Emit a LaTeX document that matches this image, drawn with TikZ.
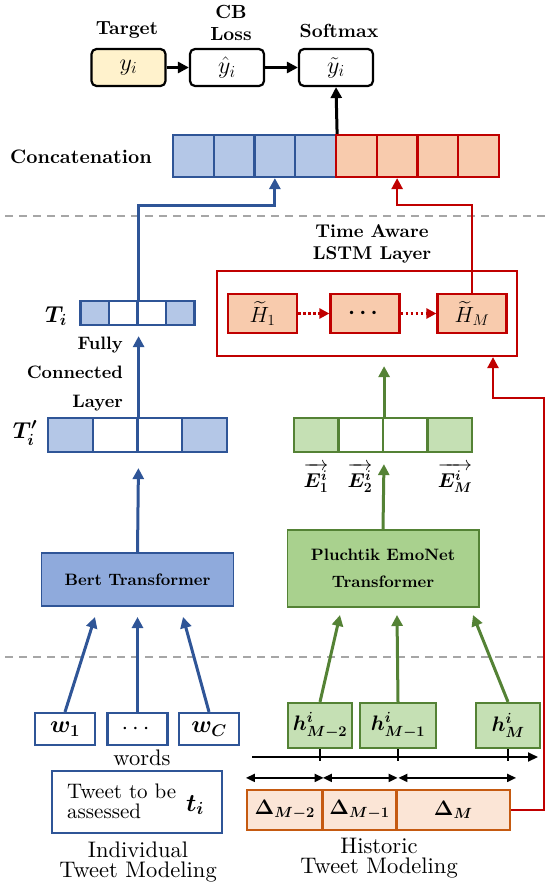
\RequirePackage{fix-cm}
\documentclass[tikz,border=0pt]{standalone}
\usepackage{amsmath}
\usepackage{bm}
\usepackage{fontspec}
\setmainfont{lmroman10}[Extension=.otf, UprightFont=*-regular, BoldFont=*-bold, ItalicFont=*-italic, BoldItalicFont=*-bolditalic]
\usetikzlibrary{arrows.meta,calc}
\definecolor{blueD}{HTML}{2F5597}
\definecolor{blueL}{HTML}{B4C7E7}
\definecolor{blueM}{HTML}{8FAADC}
\definecolor{redD}{HTML}{C00000}
\definecolor{redL}{HTML}{F8CBAD}
\definecolor{greenD}{HTML}{548235}
\definecolor{greenL}{HTML}{C5E0B4}
\definecolor{greenM}{HTML}{A9D18E}
\definecolor{orangeD}{HTML}{C55A11}
\definecolor{orangeL}{HTML}{FBE5D6}
\definecolor{yellowL}{HTML}{FFF2CC}
\definecolor{grayD}{HTML}{A6A6A6}
\begin{document}
\begin{tikzpicture}[x=1pt,y=-1pt,
  lbl/.style={font=\bfseries\fontsize{19}{21.5}\selectfont, align=center, inner sep=0},
  plaintxt/.style={font=\fontsize{22.5}{20}\selectfont, align=center, inner sep=0},
  twtxt/.style={font=\fontsize{21}{21}\selectfont, anchor=base west, inner sep=0},
  mlbl/.style={font=\fontsize{23}{23}\selectfont, inner sep=0},
  topbox/.style={draw=black, line width=2.2pt, rounded corners=5pt, minimum width=74pt, minimum height=37pt, inner sep=0, font=\fontsize{24}{24}\selectfont},
  cellbox/.style={line width=2.2pt, inner sep=0},
  hbox/.style={draw=redD, fill=redL, line width=2.2pt, minimum width=69pt, minimum height=39pt, inner sep=0, font=\fontsize{22}{22}\selectfont},
  wbox/.style={draw=blueD, fill=white, line width=2.2pt, minimum width=60pt, minimum height=32pt, inner sep=0, font=\fontsize{24}{24}\selectfont},
  gbox/.style={draw=greenD, fill=greenL, line width=2.2pt, minimum height=45pt, inner sep=0, font=\fontsize{21}{21}\selectfont},
  dbox/.style={draw=orangeD, fill=orangeL, line width=2.2pt, minimum height=40pt, inner sep=0, font=\fontsize{21}{21}\selectfont},
  tf/.style={font=\bfseries\fontsize{16.5}{27}\selectfont, align=center, line width=1.5pt, inner sep=0},
  tipb/.style={-{Triangle[length=11pt,width=11pt]}},
  blk/.style={draw=black, line width=3pt, tipb},
  bluearr/.style={draw=blueD, line width=3pt, tipb},
  greenarr/.style={draw=greenD, line width=3pt, tipb},
  redarr/.style={draw=redD, line width=2.5pt, tipb},
  dotarr/.style={draw=redD, line width=2.5pt, dash pattern=on 2.5pt off 2.5pt, -{Triangle[length=10pt,width=10pt]}},
  dsh/.style={draw=grayD, line width=2pt, dash pattern=on 8pt off 6pt},
  tline/.style={draw=black, line width=2pt, -{Triangle[length=10pt,width=9pt]}},
  dbl/.style={draw=black, line width=1.8pt, {Triangle[length=9pt,width=8pt]}-{Triangle[length=9pt,width=8pt]}},
  tick/.style={draw=black, line width=2pt}
]
\useasboundingbox (0,0) rectangle (551,894);

% ---------- top ----------
\node[topbox, fill=yellowL] (tg) at (128.5,67.5) {$y_i$};
\node[topbox, fill=white] (cb) at (227,67.5) {$\hat{y}_i$};
\node[topbox, fill=white] (sm) at (336,67.5) {$\tilde{y}_i$};
\node[lbl] (tgl) at (127,30) {Target};
\node[lbl] (cbl) at (231,23) {CB\\Loss};
\node[lbl] (sml) at (339,31) {Softmax};
\draw[blk] (tg) -- (cb);
\draw[blk] (cb) -- (sm);

% ---------- concatenation ----------
\node[lbl, font=\bfseries\fontsize{19.5}{19.5}\selectfont] (catl) at (81,157) {Concatenation};
\foreach \i in {1,...,4}
  \node[cellbox, draw=blueD, fill=blueL, minimum width=40.75pt, minimum height=42pt] (cc\i) at ({173+(\i-0.5)*40.75},156) {};
\foreach \i in {5,...,8}
  \node[cellbox, draw=redD, fill=redL, minimum width=40.75pt, minimum height=42pt] (cc\i) at ({173+(\i-0.5)*40.75},156) {};
\draw[blk] (cc4.north east) -- (sm.south);

% dashed separators
\coordinate (da1) at (5,216);
\coordinate (da2) at (546,216);
\coordinate (db1) at (5,657);
\coordinate (db2) at (546,657);
\draw[dsh] (da1) -- (da2);
\draw[dsh] (db1) -- (db2);

% ---------- LSTM ----------
\node[draw=redD, line width=2.2pt, minimum width=300pt, minimum height=85pt, inner sep=0] (lstm) at (367,313.5) {};
\node[lbl, font=\bfseries\fontsize{18.5}{22}\selectfont] (lstml) at (372,244) {Time Aware\\LSTM Layer};
\node[hbox] (h1) at (262.5,313.5) {$\widetilde{H}_1$};
\node[hbox] (h2) at (365,313.5) {$\bm{\cdots}$};
\node[hbox] (h3) at (472,313.5) {$\widetilde{H}_M$};
\draw[dotarr] (h1) -- (h2);
\draw[dotarr] (h2) -- (h3);

% ---------- T_i ----------
\foreach \i/\c in {1/blueL,2/white,3/white,4/blueL}
  \node[cellbox, draw=blueD, fill=\c, minimum width=28.5pt, minimum height=24pt] (ti\i) at ({80.5+(\i-0.5)*28.5},313) {};
\node[mlbl] (til) at (56,316) {$\bm{T_i}$};
\coordinate (bj) at ($(cc3.south)+(0,27)$);
\coordinate (rj) at ($(cc6.south)+(0,27)$);
\draw[bluearr] (ti2.north east) |- (bj) -- (cc3.south);
\draw[redarr] (h3.north) |- (rj) -- (cc6.south);

\node[lbl, align=right, anchor=east, font=\bfseries\fontsize{18}{29}\selectfont] (fcl) at (123,374) {Fully\\Connected\\Layer};

% ---------- T'_i and E ----------
\foreach \i/\c in {1/blueL,2/white,3/white,4/blueL}
  \node[cellbox, draw=blueD, fill=\c, minimum width=44.75pt, minimum height=34pt] (tp\i) at ({48+(\i-0.5)*44.75},435) {};
\node[mlbl] (tpl) at (25,433) {$\bm{T'_i}$};
\foreach \i/\c in {1/greenL,2/white,3/white,4/greenL}
  \node[cellbox, draw=greenD, fill=\c, minimum width=44.5pt, minimum height=34pt] (e\i) at ({294+(\i-0.5)*44.5},435) {};
\node[mlbl, font=\fontsize{20}{20}\selectfont] (el1) at (316,478) {$\overrightarrow{\bm{E^{i}_{1}}}$};
\node[mlbl, font=\fontsize{20}{20}\selectfont] (el2) at (360,478) {$\overrightarrow{\bm{E^{i}_{2}}}$};
\node[mlbl, font=\fontsize{20}{20}\selectfont] (el3) at (455,478) {$\overrightarrow{\bm{E^{i}_{M}}}$};

\draw[bluearr, shorten >=10pt] (tp2.north east) -- (ti2.south east);
\draw[greenarr, shorten >=9pt] (e2.north east) -- (e2.north east |- lstm.south);

% ---------- transformers ----------
\node[tf, draw=blueD, fill=blueM, minimum width=192pt, minimum height=53pt] (bert) at (137.5,579.5) {Bert Transformer};
\node[tf, draw=greenD, fill=greenM, minimum width=191.5pt, minimum height=77pt] (pl) at (383,568.5) {Pluchtik EmoNet\\Transformer};
\draw[bluearr, shorten >=15pt] (bert.north) -- (tp2.south east);
\draw[greenarr, shorten >=11pt] (pl.north) -- (e2.south east);

% ---------- words ----------
\node[wbox] (w1) at (65,729) {$\bm{w_1}$};
\node[wbox] (wd) at (137.5,729) {$\cdots$};
\node[wbox] (wc) at (209,729) {$\bm{w_C}$};
\coordinate (bt1) at (95,617);
\coordinate (bt2) at (137.5,617);
\coordinate (bt3) at (183,617);
\draw[bluearr] (w1.north) -- (bt1);
\draw[bluearr] (wd.north) -- (bt2);
\draw[bluearr] (wc.north) -- (bt3);
\node[plaintxt] (wl) at (142,758) {words};
\node[draw=blueD, line width=2.2pt, minimum width=170pt, minimum height=62pt, inner sep=0] (tw) at (137,802) {};
\node[twtxt] (twt1) at (67,798) {Tweet to be};
\node[twtxt] (twt2) at (67,818) {assessed};
\node[mlbl, font=\fontsize{25}{25}\selectfont] (tit) at (195,805) {$\bm{t_i}$};
\node[plaintxt] (itm) at (138,862) {Individual\\Tweet Modeling};

% ---------- historic ----------
\node[gbox, minimum width=64.5pt] (hm2) at (320,725.5) {$\bm{h^{i}_{M-2}}$};
\node[gbox, minimum width=76pt] (hm1) at (398,725.5) {$\bm{h^{i}_{M-1}}$};
\node[gbox, minimum width=64pt] (hm) at (508,725.5) {$\bm{h^{i}_{M}}$};
\coordinate (gt1) at (340,615);
\coordinate (gt2) at (397,615);
\coordinate (gt3) at (473,615);
\draw[greenarr] (hm2.north) -- (gt1);
\draw[greenarr] (hm1.north) -- (gt2);
\draw[greenarr] (hm.north) -- (gt3);

\coordinate (tl0) at (252,757);
\coordinate (tl1) at (538,757);
\draw[tline] (tl0) -- (tl1);
\draw[tick] (hm2.south) -- ++(0,12);
\draw[tick] (hm1.south) -- ++(0,12);
\draw[tick] (hm.south) -- ++(0,12);

\node[dbox, minimum width=75.5pt] (d1) at (284.75,810) {$\bm{\Delta_{M-2}}$};
\node[dbox, minimum width=74pt] (d2) at (359.5,810) {$\bm{\Delta_{M-1}}$};
\node[dbox, minimum width=113.5pt] (d3) at (453.25,810) {$\bm{\Delta_{M}}$};
\draw[dbl] ([yshift=11pt]d1.north west) -- ([yshift=11pt]d1.north east);
\draw[dbl] ([yshift=11pt,xshift=1.5pt]d2.north west) -- ([yshift=11pt]d2.north east);
\draw[dbl] ([yshift=11pt,xshift=3pt]d3.north west) -- ([yshift=11pt,xshift=5pt]d3.north east);

\coordinate (rc1) at (544,398);
\coordinate (rc2) at (493,398);
\draw[redarr] (d3.east) -| (rc1) -- (rc2) -- (rc2 |- lstm.south);

\node[plaintxt] (htm) at (379,858.5) {Historic\\Tweet Modeling};
\end{tikzpicture}
\end{document}
